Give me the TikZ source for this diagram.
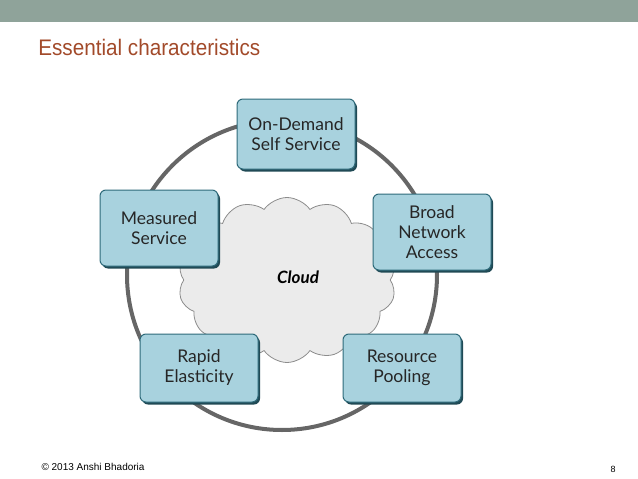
\documentclass[tikz,border=0pt]{standalone}
\usepackage{fontspec}
\setmainfont{Liberation Sans}
\newfontfamily\boxfont{Lato}
\usetikzlibrary{shapes.symbols}
\definecolor{barc}{HTML}{8FA39A}
\definecolor{titlec}{HTML}{A24A2A}
\definecolor{boxfill}{HTML}{A8D2DE}
\definecolor{boxline}{HTML}{2E6A7A}
\tikzset{
 box/.style={draw=boxline,line width=1pt,fill=boxfill,rounded corners=6pt,minimum width=118pt,minimum height=70pt,align=center,font=\boxfont\fontsize{17.5}{20}\selectfont,text=black!85,
  preaction={fill=boxline!70!black,transform canvas={shift={(2pt,-2.5pt)}}}},
}
\begin{document}
\begin{tikzpicture}[x=1pt,y=-1pt]
\useasboundingbox (0,0) rectangle (638,479);
\fill[barc] (0,0) rectangle (638,22);
\node[anchor=west,text=titlec,font=\fontsize{22.5}{24}\selectfont,xscale=0.92] (title) at (35,47) {Essential characteristics};
\draw[line width=4pt,black!60] (282,275) circle (155);
\node[cloud,cloud puffs=14,cloud puff arc=110,aspect=1.4,draw=black!45,line width=0.8pt,fill=black!8,minimum width=218pt,minimum height=165pt] (cloud) at (287,280) {};
\node[font=\bfseries\itshape\boxfont\fontsize{17}{19}\selectfont] (cl) at (298,277) {Cloud};
\node[box] (ods) at (296,134) {On-Demand\\Self Service};
\node[box,minimum height=76pt] (bna) at (432,232) {Broad\\Network\\Access};
\node[box,minimum height=68pt] (rp) at (402,368) {Resource\\Pooling};
\node[box,minimum height=68pt] (re) at (199,368) {Rapid\\Elasticity};
\node[box,minimum height=76pt] (ms) at (159,228) {Measured\\Service};
\node[anchor=west,font=\fontsize{10}{12}\selectfont] (copy) at (38,467) {© 2013 Anshi Bhadoria};
\node[font=\fontsize{9}{11}\selectfont] (pg) at (613,469) {8};
\end{tikzpicture}
\end{document}
